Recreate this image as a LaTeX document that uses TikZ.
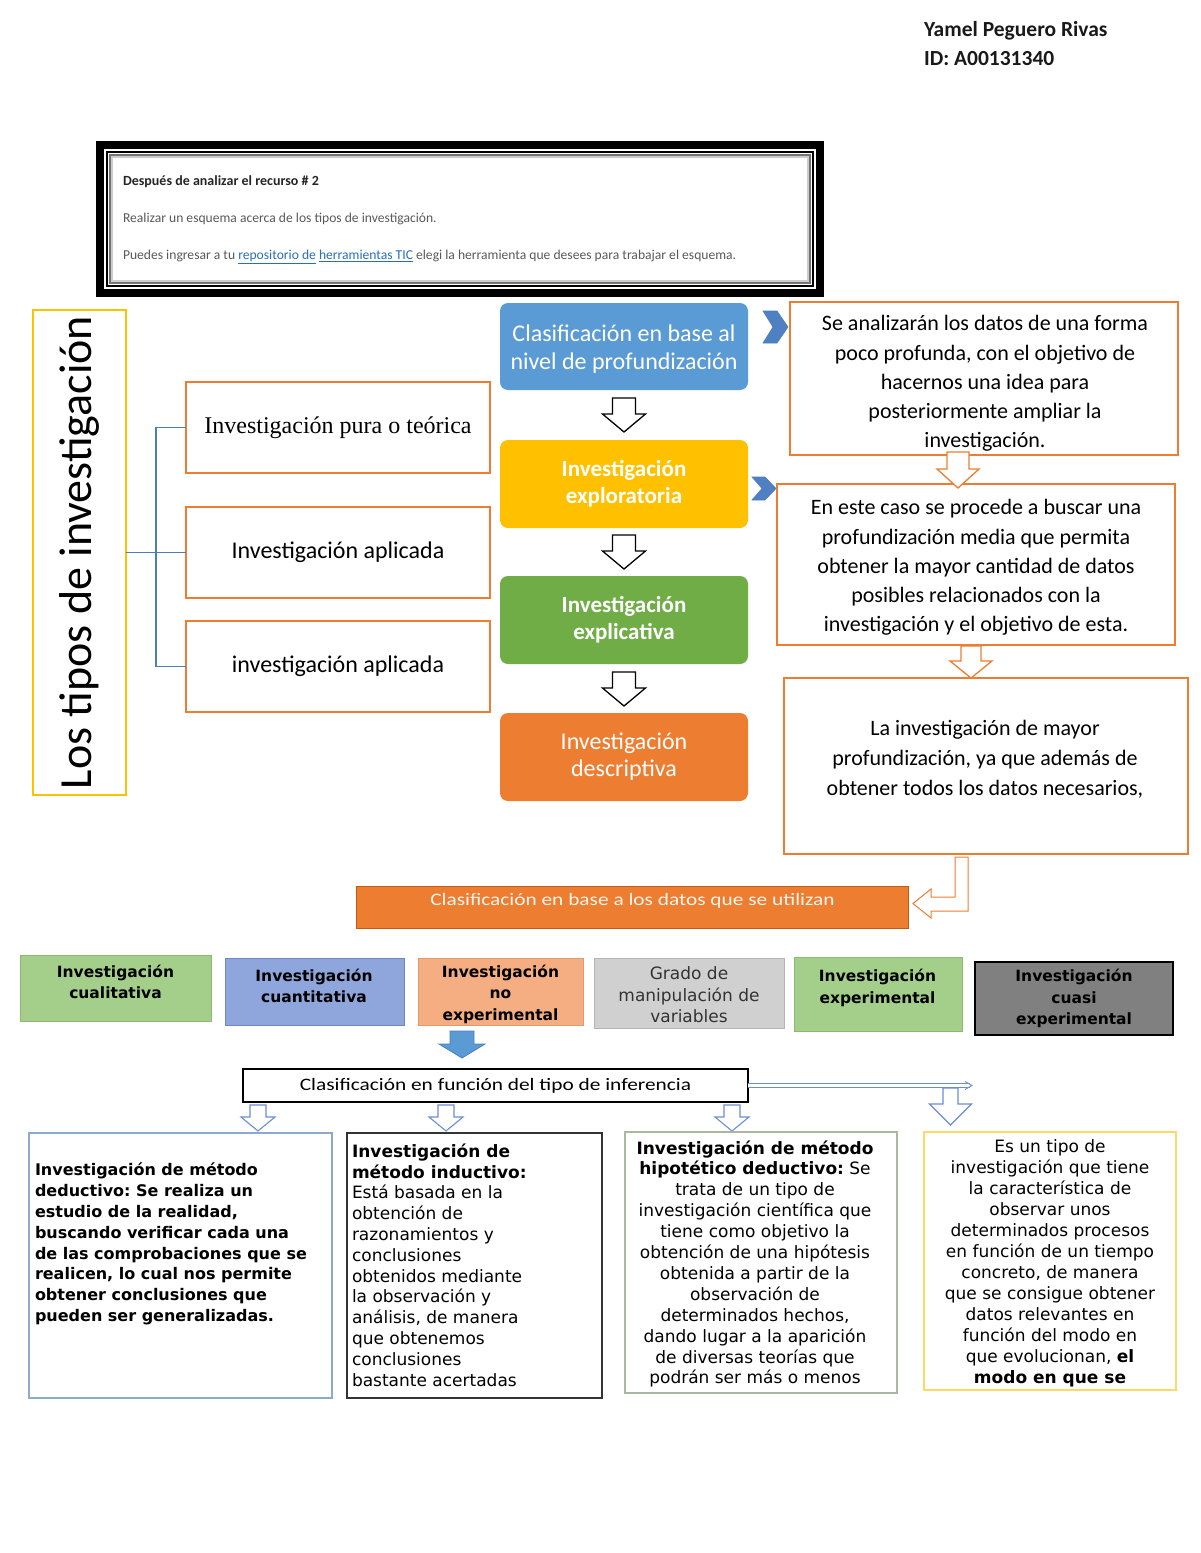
\documentclass[tikz,border=0pt]{standalone}
\usepackage{fontspec}
\setmainfont{Carlito}
\newfontfamily\carlw[FakeStretch=1.22]{Carlito}
\newfontfamily\verd{DejaVu Sans}
\newfontfamily\tms{Liberation Serif}
\usetikzlibrary{calc}
\frenchspacing
\definecolor{blueC}{HTML}{5B9BD5}
\definecolor{yellowC}{HTML}{FFC000}
\definecolor{greenC}{HTML}{70AD47}
\definecolor{orangeC}{HTML}{ED7D31}
\definecolor{orangeD}{HTML}{C55A11}
\definecolor{branchC}{HTML}{4A7EBB}
\definecolor{chevC}{HTML}{4F81C2}
\definecolor{linkC}{HTML}{2A6EBB}
\definecolor{bOneC}{HTML}{A4CF8A}
\definecolor{bOneD}{HTML}{8DB870}
\definecolor{bTwoC}{HTML}{8FA6DC}
\definecolor{bTwoD}{HTML}{6F87C0}
\definecolor{bThreeC}{HTML}{F5AD82}
\definecolor{bThreeD}{HTML}{E59A6E}
\definecolor{bFourC}{HTML}{D0D0D0}
\definecolor{bFourD}{HTML}{B5B5B5}
\definecolor{bSixC}{HTML}{808080}
\definecolor{blueL}{HTML}{6B8FCF}
\definecolor{dOneC}{HTML}{8EAACB}
\definecolor{dThreeC}{HTML}{A9B8A0}
\definecolor{dFourC}{HTML}{FFD966}
\newcommand\fs[2]{\fontsize{#1}{#2}\selectfont}
% hollow/solid down block arrow: style, cx, top, shaft half width, head start, head half width, tip
\newcommand\hdown[7]{%
  \draw[#1] (#2-#4,#3) -- (#2+#4,#3) -- (#2+#4,#5) -- (#2+#6,#5) -- (#2,#7)
     -- (#2-#6,#5) -- (#2-#4,#5) -- cycle;}
\tikzset{
  sz/.style 2 args={minimum width=#1,minimum height=#2},
  obox/.style={draw=orangeC, line width=2.2, fill=white},
  rbox/.style={rounded corners=8, text=white, align=center},
  branch/.style={draw=branchC, line width=1.6},
  harrow/.style={draw=black, fill=white, line width=1.3},
  oarrow/.style={draw=orangeC, fill=white, line width=1.3},
  barrow/.style={draw=blueL, fill=white, line width=1.1},
  sarrow/.style={draw=branchC, fill=blueC, line width=0.8},
  chev/.style={fill=chevC, draw=branchC, line width=0.6},
  rowbold/.style={font=\verd\bfseries\fs{15.5}{21.5}, align=center},
  rowreg/.style={font=\verd\fs{17}{21.5}, align=center, text=black!80},
}
\begin{document}
\begin{tikzpicture}[x=1pt,y=-1pt, every node/.style={inner sep=0pt, outer sep=0pt}]
\useasboundingbox[fill=white] (0,0) rectangle (1200,1553);

% header
\node[anchor=west, font=\bfseries\fs{21.5}{25}, text=black!90] (name) at (924,31) {Yamel Peguero Rivas};
\node[anchor=west, font=\bfseries\fs{21.5}{25}, text=black!90] (idn) at (924,59) {ID: A00131340};

% task box
\node[fill=black, sz={728}{156}] (task) at (460,219) {};
\node[fill=white, sz={712}{140}] (taskin) at (460,219) {};
\draw[black, line width=1.2] ($(taskin.north west)+(3,3)$) rectangle ($(taskin.south east)+(-3,-3)$);
\draw[black!55, line width=2] ($(taskin.north west)+(6,6)$) rectangle ($(taskin.south east)+(-6,-6)$);
\draw[black!20, line width=2] ($(taskin.north west)+(8,8)$) rectangle ($(taskin.south east)+(-8,-8)$);
\node[anchor=west, font=\bfseries\fs{14}{16}, text=black!85] (tone) at (123,182) {Después de analizar el recurso \# 2};
\node[anchor=west, font=\fs{13.6}{16}, text=black!65] (ttwo) at (123,219) {Realizar un esquema acerca de los tipos de investigación.};
\node[anchor=west, font=\fs{13.6}{16}, text=black!65] (tthree) at (123,257) {Puedes ingresar a tu \textcolor{linkC}{\underline{repositorio de}} \textcolor{linkC}{\underline{herramientas TIC}} elegi la herramienta que desees para trabajar el esquema.};

% title
\node[draw=yellowC, line width=1.6, sz={93}{485}] (title) at (79.5,552.5) {};
\node[rotate=90, font=\fs{46}{50}] (titletxt) at (title.center) {Los tipos de investigación};

% left boxes
\node[obox, sz={304}{91}, font=\tms\fs{24}{28}] (pura) at (338,427.5) {Investigación pura o teórica};
\node[obox, sz={304}{91}, font=\fs{24}{28}] (aplA) at (338,552.5) {Investigación aplicada};
\node[obox, sz={304}{91}, font=\fs{24}{28}] (aplB) at (338,666.5) {investigación aplicada};
\draw[branch] (title.east) -- (aplA.west);
\draw[branch] (pura.west) -- ++(-30,0) |- (aplB.west);

% middle column
\node[rbox, fill=blueC, sz={248}{87}, font=\fs{24}{28}] (nivel) at (624,346.5) {};
\node[text=white, align=center, font=\fs{24}{28}] (nivelt) at (624,349) {Clasificación en base al\\nivel de profundización};
\node[rbox, fill=yellowC, sz={248}{88}, font=\bfseries\fs{23}{27}] (explo) at (624,484) {Investigación\\exploratoria};
\node[rbox, fill=greenC, sz={248}{88}, font=\bfseries\fs{23}{27}] (expli) at (624,620) {Investigación\\explicativa};
\node[rbox, fill=orangeC, sz={248}{88}, font=\fs{24}{27}] (descr) at (624,757) {Investigación\\descriptiva};
\hdown{harrow}{624}{398}{11.5}{414}{21.5}{432}
\hdown{harrow}{624}{535}{11.5}{551}{21.5}{569}
\hdown{harrow}{624}{672}{11.5}{688}{21.5}{706}

% chevrons
\filldraw[chev] (763,311) -- (777,311) -- (788,327) -- (777,343) -- (763,343) -- (773,327) -- cycle;
\filldraw[chev] (752,477) -- (765,477) -- (776,488.5) -- (765,500) -- (752,500) -- (762,488.5) -- cycle;

% right column
\node[obox, sz={388}{153}] (rone) at (984,378.5) {};
\node[font=\fs{22}{29.2}, align=center] (ronet) at (985,383.5) {Se analizarán los datos de una forma\\poco profunda, con el objetivo de\\hacernos una idea para\\posteriormente ampliar la\\investigación.};
\node[obox, sz={398}{161}] (rtwo) at (976,564.5) {};
\node[font=\fs{22}{29.2}, align=center] (rtwot) at (976,567.5) {En este caso se procede a buscar una\\profundización media que permita\\obtener la mayor cantidad de datos\\posibles relacionados con la\\investigación y el objetivo de esta.};
\node[obox, sz={404}{176}] (rthree) at (986,766) {};
\node[font=\fs{22}{30}, align=center] (rthreet) at (985,759) {La investigación de mayor\\profundización, ya que además de\\obtener todos los datos necesarios,};
\hdown{oarrow}{958}{452}{11}{469}{21}{488}
\hdown{oarrow}{971}{646}{10}{661}{21}{678}

% orange bar
\node[fill=orangeC, draw=orangeD, line width=1, sz={552}{42}] (datos) at (632,907) {};
\node[font=\carlw\fs{17.5}{20}, text=white!92!orangeC] (datost) at (632.5,901) {Clasificación en base a los datos que se utilizan};
\draw[oarrow, line width=1] (955,857) -- (968,857) -- (968,911) -- (931,911) -- (931,918) -- (913,903.5) -- (931,889) -- (931,897) -- (955,897) -- cycle;

% row of boxes
\node[fill=bOneC, draw=bOneD, line width=1, sz={191}{66}] (bone) at (115.5,988) {};
\node[rowbold] (bonet) at (115.5,982) {Investigación\\cualitativa};
\node[fill=bTwoC, draw=bTwoD, line width=1, sz={179}{67}] (btwo) at (314.5,991.5) {};
\node[rowbold] (btwot) at (314,986) {Investigación\\cuantitativa};
\node[fill=bThreeC, draw=bThreeD, line width=1, sz={165}{67}] (bthree) at (500.5,991.5) {};
\node[rowbold] (bthreet) at (500.5,994) {Investigación\\no\\experimental};
\node[fill=bFourC, draw=bFourD, line width=1, sz={190}{70}] (bfour) at (689,993) {};
\node[rowreg] (bfourt) at (689,995) {Grado de\\manipulación de\\variables};
\node[fill=bOneC, draw=bOneD, line width=1, sz={168}{74}] (bfive) at (878,994) {};
\node[rowbold] (bfivet) at (877.5,988) {Investigación\\experimental};
\node[fill=bSixC, draw=black, line width=1.5, sz={198}{73}, rowbold] (bsix) at (1074,998.5) {Investigación\\cuasi\\experimental};

% inference
\hdown{sarrow}{462}{1031}{12}{1044}{23}{1058}
\node[draw=black, line width=1.2, fill=white, sz={505}{33}, font=\carlw\fs{17.5}{20}] (infer) at (495.5,1085.5) {Clasificación en función del tipo de inferencia};
\coordinate (infend) at (972,1085.5);
\draw[draw=blueL, double=white, double distance=2.4, line width=0.9] (infer.east) -- ($(infend)+(-2,0)$);
\draw[blueL, line width=0.9] ($(infend)+(-7,-4)$) -- (infend) -- ($(infend)+(-7,4)$);
\hdown{barrow}{258}{1105}{8}{1117}{17}{1131}
\hdown{barrow}{446}{1105}{8}{1117}{17}{1131}
\hdown{barrow}{732}{1105}{8}{1117}{17}{1131}
\hdown{barrow}{950.5}{1088}{7.5}{1104}{21}{1125}

% bottom boxes
\node[draw=dOneC, line width=1.5, sz={303}{265}] (done) at (180.5,1265.5) {};
\node[anchor=west, align=left, font=\verd\bfseries\fs{16}{20.85}] (donet) at (35,1244) {Investigación de método\\deductivo: Se realiza un\\estudio de la realidad,\\buscando verificar cada una\\de las comprobaciones que se\\realicen, lo cual nos permite\\obtener conclusiones que\\pueden ser generalizadas.};

\node[draw=black!80, line width=2, sz={255}{265}] (dtwo) at (474.5,1265.5) {};
\node[anchor=west, align=left, font=\verd\fs{17}{20.8}] (dtwot) at (352,1265) {\bfseries Investigación de\\\bfseries método inductivo:\\Está basada en la\\obtención de\\razonamientos y\\conclusiones\\obtenidos mediante\\la observación y\\análisis, de manera\\que obtenemos\\conclusiones\\bastante acertadas};

\node[draw=dThreeC, line width=1.5, sz={272}{261}] (dthree) at (761,1262.5) {};
\node[align=center, font=\verd\fs{17}{20.9}] (dthreet) at (755,1264) {\bfseries Investigación de método\\{\bfseries hipotético deductivo:} Se\\trata de un tipo de\\investigación científica que\\tiene como objetivo la\\obtención de una hipótesis\\obtenida a partir de la\\observación de\\determinados hechos,\\dando lugar a la aparición\\de diversas teorías que\\podrán ser más o menos};

\node[draw=dFourC, line width=2, sz={252}{258}] (dfour) at (1050,1261) {};
\node[align=center, font=\verd\fs{17}{21}] (dfourt) at (1050,1263.5) {Es un tipo de\\investigación que tiene\\la característica de\\observar unos\\determinados procesos\\en función de un tiempo\\concreto, de manera\\que se consigue obtener\\datos relevantes en\\función del modo en\\que evolucionan, {\bfseries el}\\\bfseries modo en que se};
\end{tikzpicture}
\end{document}
